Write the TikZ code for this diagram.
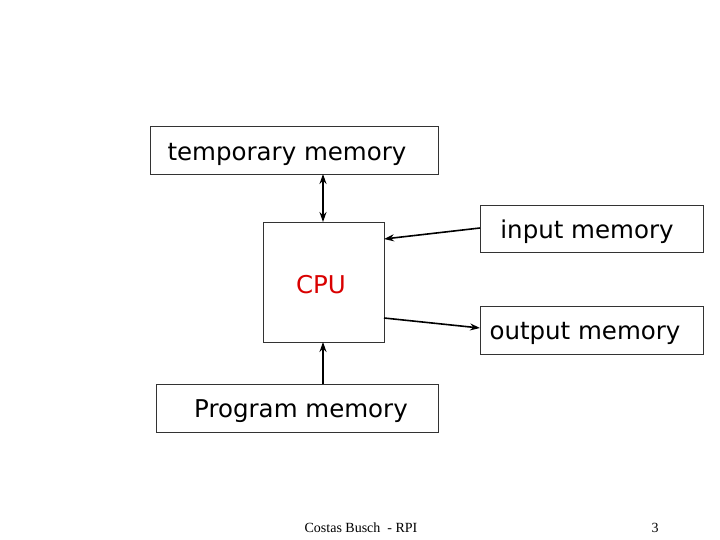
\documentclass[tikz,border=0pt]{standalone}
\usepackage{fontspec}
\setmainfont{DejaVu Sans}
\newfontfamily\foot{Liberation Serif}
\usetikzlibrary{arrows.meta}
\begin{document}
\begin{tikzpicture}[x=1pt,y=-1pt,
  box/.style={draw=black!80,line width=0.8pt},
  lbl/.style={font=\fontsize{24.5}{28}\selectfont},
  tip/.tip={Stealth[length=10pt,width=7pt]},
  arr/.style={line width=1.6pt,-tip}]
\useasboundingbox (0,0) rectangle (720,540);
\draw[box] (150,126) rectangle (438,174);
\draw[box] (263,222) rectangle (384,342);
\draw[box] (480,205) rectangle (703,252);
\draw[box] (480,306) rectangle (703,354);
\draw[box] (156,384) rectangle (438,432);
\node[lbl] (tm) at (287,154) {temporary memory};
\node[lbl] (im) at (587,232) {input memory};
\node[lbl,text=red!85!black] (cpu) at (321,285) {CPU};
\node[lbl] (om) at (585,333) {output memory};
\node[lbl] (pm) at (301,411) {Program memory};
\coordinate (t1) at (323,174); \coordinate (t2) at (323,222);
\coordinate (i1) at (480,228); \coordinate (i2) at (384,239);
\coordinate (o1) at (384,318); \coordinate (o2) at (480,328);
\coordinate (p1) at (323,384); \coordinate (p2) at (323,342);
\draw[arr,tip-tip] (t1) -- (t2);
\draw[arr] (i1) -- (i2);
\draw[arr] (o1) -- (o2);
\draw[arr] (p1) -- (p2);
\node[font=\foot\fontsize{14}{16}\selectfont] (ft) at (361,528) {Costas Busch\ \ - RPI};
\node[font=\foot\fontsize{14}{16}\selectfont] (pg) at (655,528) {3};
\end{tikzpicture}
\end{document}
